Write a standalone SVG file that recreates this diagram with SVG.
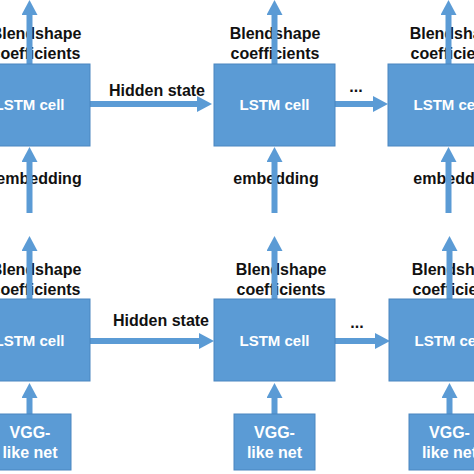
<svg xmlns="http://www.w3.org/2000/svg" width="474" height="474" viewBox="0 0 474 474">
<defs>
<style>
.box{fill:#5B9BD5;stroke:#4A86C0;stroke-width:1}
.lbl{font-family:"Liberation Sans",Arial,sans-serif;font-weight:bold;font-size:16px;fill:#111;text-anchor:middle}
.in{font-family:"Liberation Sans",Arial,sans-serif;font-weight:bold;font-size:15px;fill:#fff;text-anchor:middle}
.vgg{font-family:"Liberation Sans",Arial,sans-serif;font-weight:bold;font-size:16px;fill:#fff;text-anchor:middle}
.arr{stroke:#5B9BD5;stroke-width:6;fill:none;marker-end:url(#ah)}
</style>
<marker id="ah" markerUnits="userSpaceOnUse" markerWidth="15" markerHeight="16" viewBox="0 0 15 16" refX="0" refY="8" orient="auto">
<path d="M0,0 L15,8 L0,16 Z" fill="#5B9BD5"/>
</marker>
</defs>
<rect width="474" height="474" fill="#fff"/>

<g id="labels-top">
<text class="lbl" x="36" y="39">Blendshape</text><text class="lbl" x="36" y="59">coefficients</text>
<text class="lbl" x="275" y="39">Blendshape</text><text class="lbl" x="275" y="59">coefficients</text>
<text class="lbl" x="455" y="39">Blendshape</text><text class="lbl" x="455" y="59">coefficients</text>
<text class="lbl" x="157" y="96">Hidden state</text>
<text class="lbl" x="356" y="92">...</text>
<text class="lbl" x="39" y="184">embedding</text>
<text class="lbl" x="276" y="184">embedding</text>
<text class="lbl" x="456" y="184">embedding</text>
</g>
<g id="labels-bottom">
<text class="lbl" x="36" y="275">Blendshape</text><text class="lbl" x="36" y="295">coefficients</text>
<text class="lbl" x="281" y="275">Blendshape</text><text class="lbl" x="281" y="295">coefficients</text>
<text class="lbl" x="457" y="275">Blendshape</text><text class="lbl" x="457" y="295">coefficients</text>
<text class="lbl" x="161" y="326">Hidden state</text>
<text class="lbl" x="357" y="328">...</text>
</g>

<g id="connectors">
<line class="arr" x1="29.5" y1="64" x2="29.5" y2="15"/>
<line class="arr" x1="274.5" y1="64" x2="274.5" y2="15"/>
<line class="arr" x1="448.5" y1="64" x2="448.5" y2="15"/>
<line class="arr" x1="29.5" y1="213" x2="29.5" y2="162"/>
<line class="arr" x1="274.5" y1="213" x2="274.5" y2="162"/>
<line class="arr" x1="448.5" y1="213" x2="448.5" y2="162"/>
<line class="arr" x1="90" y1="104" x2="197" y2="104"/>
<line class="arr" x1="335" y1="104" x2="373" y2="104"/>
<line class="arr" x1="29.5" y1="299" x2="29.5" y2="251"/>
<line class="arr" x1="274.5" y1="299" x2="274.5" y2="251"/>
<line class="arr" x1="449.5" y1="299" x2="449.5" y2="251"/>
<line class="arr" x1="29.5" y1="414" x2="29.5" y2="398"/>
<line class="arr" x1="274.5" y1="414" x2="274.5" y2="398"/>
<line class="arr" x1="449.5" y1="414" x2="449.5" y2="398"/>
<line class="arr" x1="90" y1="341" x2="199" y2="341"/>
<line class="arr" x1="335" y1="341" x2="375" y2="341"/>
</g>

<g id="lstm-t1"><rect class="box" x="-31" y="64" width="121" height="82"/><text class="in" x="29.5" y="110">LSTM cell</text></g>
<g id="lstm-t2"><rect class="box" x="214" y="64" width="121" height="82"/><text class="in" x="274.5" y="110">LSTM cell</text></g>
<g id="lstm-t3"><rect class="box" x="388" y="64" width="121" height="82"/><text class="in" x="448.5" y="110">LSTM cell</text></g>

<g id="lstm-b1"><rect class="box" x="-31" y="299" width="121" height="82"/><text class="in" x="29.5" y="346">LSTM cell</text></g>
<g id="lstm-b2"><rect class="box" x="214" y="299" width="121" height="82"/><text class="in" x="274.5" y="346">LSTM cell</text></g>
<g id="lstm-b3"><rect class="box" x="389" y="299" width="121" height="82"/><text class="in" x="449.5" y="346">LSTM cell</text></g>

<g id="vgg-1"><rect class="box" x="-11" y="414" width="82" height="56"/><text class="vgg" x="30" y="438">VGG-</text><text class="vgg" x="30" y="458">like net</text></g>
<g id="vgg-2"><rect class="box" x="234" y="414" width="81" height="56"/><text class="vgg" x="274.5" y="438">VGG-</text><text class="vgg" x="274.5" y="458">like net</text></g>
<g id="vgg-3"><rect class="box" x="409" y="414" width="82" height="56"/><text class="vgg" x="449.5" y="438">VGG-</text><text class="vgg" x="449.5" y="458">like net</text></g>
</svg>
